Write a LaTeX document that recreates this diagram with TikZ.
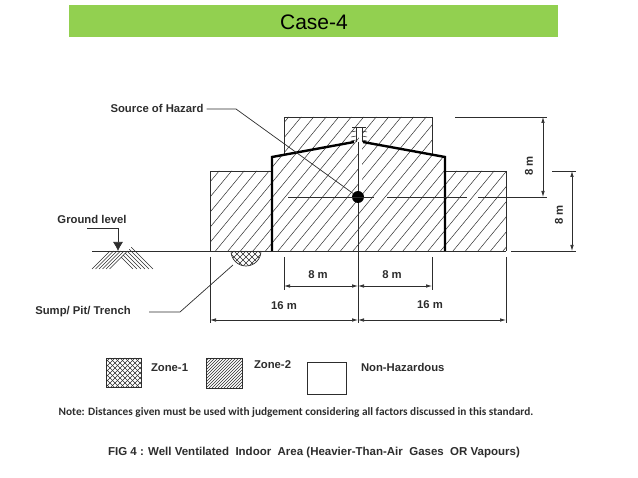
\documentclass[tikz,border=0pt]{standalone}
\usepackage{fontspec}
\setmainfont{Liberation Sans}
\newfontfamily\notefont{Carlito}
\usetikzlibrary{arrows.meta,positioning}
\definecolor{bannergreen}{RGB}{146,208,80}
\definecolor{inkgray}{RGB}{45,45,45}
\tikzset{
  hatchline/.style={draw=inkgray, line width=0.5pt},
  wall/.style={draw=black, line width=2.4pt, line join=miter},
  thinline/.style={draw=inkgray, line width=0.7pt},
  dimline/.style={draw=inkgray, line width=0.7pt, {Latex[length=6pt,width=3.5pt]}-{Latex[length=6pt,width=3.5pt]}},
  lbl/.style={font=\bfseries\fontsize{11.3}{13}\selectfont, text=inkgray, inner sep=0pt},
  legendbox/.style={draw=inkgray, line width=0.8pt},
}
\begin{document}
\begin{tikzpicture}[x=1pt,y=-1pt]
\useasboundingbox (0,0) rectangle (638,478);

% Banner
\fill[bannergreen] (69,5) rectangle (558,37);
\node[font=\fontsize{21}{24}\selectfont] (title) at (314,22) {Case-4};

% Zone-2 hatching
\begin{scope}
\clip (210,251) -- (210,171) -- (272,171) -- (272,157) -- (284,155) -- (284,117) -- (432,117) -- (432,155) -- (445,157) -- (445,171) -- (506,171) -- (506,251) -- cycle;
\foreach \hx in {0,12.5,...,570} {
  \draw[hatchline] (\hx,300) -- ++(190,-230);
}
\end{scope}
\draw[thinline] (210,251) -- (210,171) -- (272,171);
\draw[thinline] (284,155) -- (284,117) -- (432,117) -- (432,155);
\draw[thinline] (445,171) -- (506,171) -- (506,251);

% Ground
\coordinate (gndL) at (92,251);
\coordinate (gndR) at (506,251);
\draw[thinline] (gndL) -- (gndR);
\foreach \gx in {0,3.5,...,17.5} {
  \draw[hatchline] (92+\gx,269) -- (110+\gx,251);
}
\foreach \gb in {133,137,...,153} {
  \draw[hatchline] (\gb,269) -- ({\gb-(\gb-109.5)/2},{269-(\gb-109.5)/2});
}

% Sump
\begin{scope}
\clip (231,251) arc (180:0:15);
\foreach \sx in {210,216,...,280} {
  \draw[hatchline] (\sx,251) -- ++(20,20);
  \draw[hatchline] (\sx,251) -- ++(-20,20);
}
\end{scope}
\draw[thinline] (231,251) arc (180:0:15);

% Vent
\fill[white] (359,127) rectangle (362,190);

% Building
\draw[wall] (272,251) -- (272,157) -- (354,142);
\draw[wall] (363,142) -- (445,157) -- (445,251);

\draw[thinline] (356,142) -- (356,128);
\draw[thinline] (362,142) -- (362,128);
\draw[thinline] (352,127) -- (366,127);
\foreach \fy in {131,136,140} {
  \draw[hatchline] (356,\fy) -- (351,\fy+1);
  \draw[hatchline] (362,\fy) -- (367,\fy+1);
}

% Source
\node[circle, fill=black, minimum size=12pt, inner sep=0pt] (source) at (358,197) {};
\draw[thinline] (358,142) -- (source);
\draw[thinline] (source) -- (358,323);
\draw[thinline] (288,197) -- (374,197);
\draw[thinline] (387,197) -- (467,197);
\draw[thinline] (478,197) -- (547,197);

% Labels on the left
\node[lbl] (hazard) at (157,108) {Source of Hazard};
\coordinate (hazardBend) at (236,109);
\draw[thinline] (hazard.east) ++(3,1) -- (hazardBend) -- (source);
\node[lbl] (ground) at (92,219) {Ground level};
\coordinate (gndArrow) at (118,251);
\draw[thinline, -{Latex[length=9pt,width=10pt]}] (87,228) -- (118,228) -- (gndArrow);
\node[lbl] (sump) at (83,312) {Sump/ Pit/ Trench};
\coordinate (sumpBend) at (180,312);
\draw[thinline] (149,312) -- (sumpBend) -- (233,265);

% Dimensions below
\foreach \ex/\ey in {284/290, 432/290, 210/323, 506/323} {
  \draw[thinline] (\ex,257) -- (\ex,\ey);
}
\coordinate (dimA) at (284,286);
\coordinate (dimB) at (358,286);
\coordinate (dimC) at (432,286);
\coordinate (dimD) at (210,320);
\coordinate (dimE) at (358,320);
\coordinate (dimF) at (506,320);
\draw[dimline] (dimA) -- (dimB);
\draw[dimline] (dimB) -- (dimC);
\draw[dimline] (dimD) -- (dimE);
\draw[dimline] (dimE) -- (dimF);
\node[lbl] (dimEightL) at (318,275) {8 m};
\node[lbl] (dimEightR) at (392,275) {8 m};
\node[lbl] (dimSixteenL) at (284,306) {16 m};
\node[lbl] (dimSixteenR) at (430,305) {16 m};

% Dimensions on the right
\draw[thinline] (455,117) -- (547,117);
\draw[thinline] (552,171) -- (576,171);
\draw[thinline] (511,251) -- (576,251);
\coordinate (dimG) at (543,117);
\coordinate (dimH) at (543,197);
\coordinate (dimI) at (572,171);
\coordinate (dimJ) at (572,251);
\draw[dimline] (dimG) -- (dimH);
\draw[dimline] (dimI) -- (dimJ);
\node[lbl, rotate=90] (dimEightT) at (529,166) {8 m};
\node[lbl, rotate=90] (dimEightS) at (559,215) {8 m};

% Legend
\begin{scope}
\clip (106,358) rectangle (141,387);
\foreach \lx in {70,75,...,180} {
  \draw[hatchline] (\lx,358) -- ++(30,30);
  \draw[hatchline] (\lx,358) -- ++(-30,30);
}
\end{scope}
\node[legendbox, minimum width=35pt, minimum height=29pt, anchor=north west] (zoneA) at (106,358) {};
\node[lbl, right=9pt of zoneA.east, yshift=5.5pt] (zoneAtext) {Zone-1};
\begin{scope}
\clip (206,358) rectangle (242,388);
\foreach \lx in {170,173,...,245} {
  \draw[hatchline] (\lx,388) -- ++(30,-30);
}
\end{scope}
\node[legendbox, minimum width=36pt, minimum height=30pt, anchor=north west] (zoneB) at (206,358) {};
\node[lbl, right=11pt of zoneB.east, yshift=9pt] (zoneBtext) {Zone-2};
\node[legendbox, minimum width=39pt, minimum height=32pt, anchor=north west] (safe) at (307,362) {};
\node[lbl, right=14pt of safe.east, yshift=11pt] (safetext) {Non-Hazardous};

% Notes
\node[lbl, font=\notefont\bfseries\fontsize{11.3}{13}\selectfont] (note) at (296,412) {Note: Distances given must be used with judgement considering all factors discussed in this standard.};
\node[lbl, font=\bfseries\fontsize{11.5}{13}\selectfont] (fig) at (314,453) {FIG 4 : Well Ventilated\ \ Indoor\ \ Area (Heavier-Than-Air\ \ Gases\ \ OR Vapours)};
\end{tikzpicture}
\end{document}
